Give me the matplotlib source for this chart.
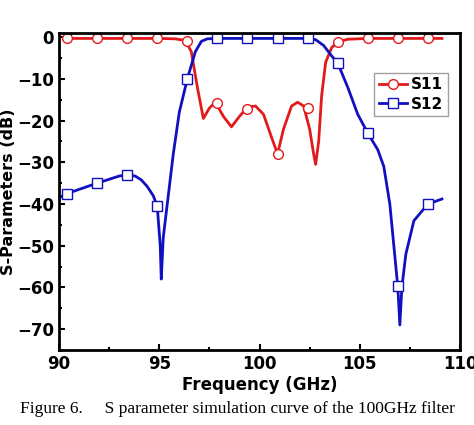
import matplotlib
matplotlib.use("Agg")
import matplotlib.pyplot as plt
from matplotlib.ticker import MultipleLocator

s11_f = [90.4, 91.9, 93.4, 94.9, 95.8, 96.3, 96.6, 96.9, 97.2, 97.5, 97.8, 98.2, 98.6, 99.0, 99.4, 99.8, 100.2, 100.6, 100.9, 101.2, 101.6, 101.9, 102.2, 102.5, 102.7, 102.8, 102.95, 103.1, 103.3, 103.6, 103.9, 104.4, 105.4, 106.9, 108.4, 109.1]
s11_db = [-0.3, -0.3, -0.3, -0.3, -0.4, -0.8, -3.5, -12, -19.5, -17, -15.6, -19, -21.5, -19, -16.8, -16.5, -18.5, -24, -28, -22, -16.5, -15.6, -16.5, -22, -28, -30.5, -25, -14, -6, -2.5, -1.2, -0.5, -0.3, -0.3, -0.3, -0.3]
s11_mf = [90.4, 91.9, 93.4, 94.9, 96.4, 97.9, 99.4, 100.9, 102.4, 103.9, 105.4, 106.9, 108.4]
s11_mv = [-0.3, -0.3, -0.3, -0.3, -0.8, -15.7, -17.2, -28, -17, -1.2, -0.3, -0.3, -0.3]

s12_f = [90.0, 90.4, 91.9, 93.0, 93.4, 93.8, 94.1, 94.4, 94.7, 94.9, 95.05, 95.1, 95.2, 95.4, 95.7, 96.0, 96.4, 96.8, 97.1, 97.4, 97.9, 102.4, 102.8, 103.2, 103.6, 103.9, 104.4, 104.9, 105.4, 105.9, 106.2, 106.5, 106.7, 106.9, 107.0, 107.1, 107.3, 107.7, 108.4, 109.1]
s12_db = [-38.5, -37.5, -35, -33.3, -33, -33.3, -34.2, -35.8, -38, -40.5, -50, -58, -48, -40, -28, -18, -10, -3.5, -1, -0.4, -0.3, -0.3, -0.6, -2, -4.5, -6.2, -12, -18.5, -23, -27, -31, -40, -50, -60, -69, -60, -52, -44, -40, -38.8]
s12_mf = [90.4, 91.9, 93.4, 94.9, 96.4, 97.9, 99.4, 100.9, 102.4, 103.9, 105.4, 106.9, 108.4]
s12_mv = [-37.5, -35, -33, -40.5, -10, -0.3, -0.3, -0.3, -0.3, -6.2, -23, -59.7, -40]

xticks = [90, 95, 100, 105, 110]
yticks = [0, -10, -20, -30, -40, -50, -60, -70]

fig = plt.figure(figsize=(4.74, 4.25), dpi=100)
ax = fig.add_axes([59/474, 1-350/425, (460-59)/474, (350-33)/425])
red = "#e31a1c"
blue = "#1010c0"
ax.plot(s11_f, s11_db, color=red, lw=2)
ax.plot(s12_f, s12_db, color=blue, lw=2)
ax.plot(s11_mf, s11_mv, ls="none", marker="o", ms=7, mfc="white", mec=red, mew=1)
ax.plot(s12_mf, s12_mv, ls="none", marker="s", ms=6.5, mfc="white", mec=blue, mew=1)
h1, = ax.plot([], [], color=red, lw=2, marker="o", ms=7, mfc="white", mec=red, label="S11")
h2, = ax.plot([], [], color=blue, lw=2, marker="s", ms=6.5, mfc="white", mec=blue, label="S12")
leg = ax.legend(handles=[h1, h2], loc="upper right", bbox_to_anchor=(0.97, 0.875),
                prop={"weight": "bold", "size": 11}, fancybox=False, edgecolor="#888888",
                handlelength=1.8, borderpad=0.3, labelspacing=0.3, handletextpad=0.3,
                borderaxespad=0)
ax.set_xlim(90, 110)
ax.set_ylim(-75, 1)
ax.set_xticks(xticks)
ax.set_yticks(yticks)
ax.xaxis.set_minor_locator(MultipleLocator(2.5))
ax.yaxis.set_minor_locator(MultipleLocator(5))
ax.tick_params(which="both", direction="in", labelsize=12, width=1.5)
ax.tick_params(which="major", length=4)
ax.tick_params(which="minor", length=2)
for lab in ax.get_xticklabels() + ax.get_yticklabels():
    lab.set_fontweight("bold")
for s in ax.spines.values():
    s.set_linewidth(2)
ax.set_xlabel("Frequency (GHz)", fontsize=12, fontweight="bold", labelpad=2)
ax.set_ylabel("S-Parameters (dB)", fontsize=11.5, fontweight="bold", labelpad=1)
fig.text(0.5, 8/425, "Figure 6.     S parameter simulation curve of the 100GHz filter",
         ha="center", va="bottom", fontsize=12.5, family="Liberation Serif")
fig.savefig("out.png", dpi=100)
